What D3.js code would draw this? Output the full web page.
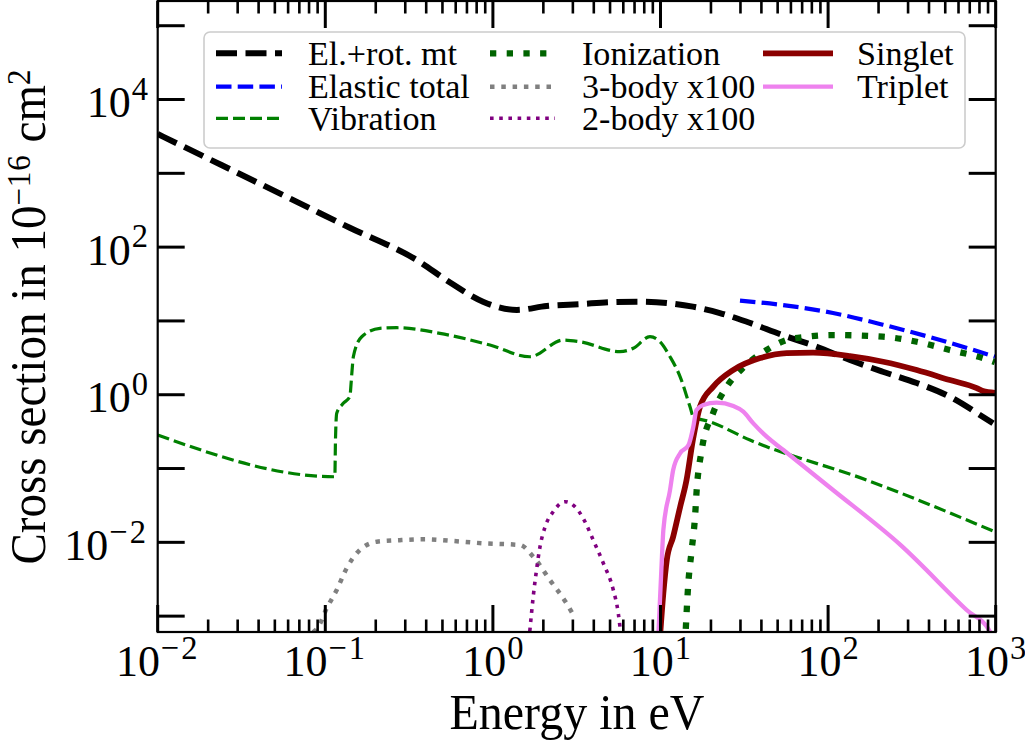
<!DOCTYPE html>
<html>
<head>
<meta charset="utf-8">
<script src="https://cdn.jsdelivr.net/npm/d3@7"></script>
<style>
  body { margin: 0; background: #fff; }
  text { font-family: "Liberation Serif", "DejaVu Serif", serif; fill: #000; }
</style>
</head>
<body>
<svg id="chart" width="1025" height="740"></svg>
<script>
// Cross sections, [energy in eV, value in 1e-16 cm^2]
const elRotMt = [[0.01,3410],[0.0179,1791],[0.0356,838],[0.0706,392],[0.14,183],[0.351,66.9],[0.555,33.1],
  [0.873,18.2],[1.39,14.1],[2.09,15.9],[3.31,16.9],[5.25,18.0],[7.57,18.2],[10.9,17.5],[15.6,15.6],[22.6,12.8],
  [32.7,9.75],[53.8,6.4],[85.5,4.47],[135,2.95],[212,2.05],[338,1.44],[532,0.94],[841,0.5],[964,0.41]];
const elasticTotal = [[29.8,18.8],[53.8,16.4],[107,12.8],[212,8.9],[423,5.87],[674,4.3],[990,3.27]];
const vibration = [[0.01,0.284],[0.114,0.0774],[0.115,0.243],[0.117,0.56],[0.128,0.764],[0.14,0.94],[0.144,1.95],
  [0.147,3.27],[0.165,6.11],[0.212,7.94],[0.267,8.09],[0.483,6.79],[0.961,4.71],[1.66,3.27],[2.63,5.51],
  [3.31,5.22],[5.73,3.83],[6.88,4.26],[8.65,6.11],[9.93,5.22],[11.4,3.27],[13.1,1.75],[15.0,0.687],[15.7,0.504],
  [19.7,0.431],[34.2,0.243],[170,0.0698],[990,0.0139]];
const ionization = [[14.0,4e-4],[14.66,2.81e-3],[15.35,7.87e-3],[16.07,0.0222],[16.44,0.0512],[17.62,0.178],
  [20.6,0.565],[24.8,1.28],[31.0,2.3],[43.0,4.04],[56.6,5.52],[74.5,6.11],[107,6.44],[212,6.11],[338,5.22],
  [532,4.04],[841,3.14],[990,2.77]];
const threeBody = [[0.0846,6.07e-4],[0.0908,7.18e-4],[0.102,1.28e-3],[0.117,2.26e-3],[0.134,4.45e-3],[0.157,7.46e-3],
  [0.203,0.0102],[0.279,0.0107],[0.394,0.011],[0.555,0.0105],[0.877,9.7e-3],[1.45,9.2e-3],[1.74,6.4e-3],
  [2.19,3.08e-3],[2.75,1.49e-3],[3.02,1.04e-3]];
const twoBody = [[1.66,6.25e-4],[1.74,1.83e-3],[1.82,4.2e-3],[1.91,8.7e-3],[2.05,0.0163],[2.29,0.026],[2.69,0.0355],
  [3.09,0.0303],[3.46,0.0211],[3.97,0.0107],[4.56,5.2e-3],[5.23,2.26e-3],[5.6,1.09e-3],[5.73,7.2e-4]];
const singlet = [[9.85,4e-4],[10.4,2.06e-3],[10.9,5.75e-3],[11.9,0.0119],[13.1,0.0303],[14.3,0.0698],[15.6,0.243],
  [17.2,0.687],[20.6,1.28],[27.1,2.16],[39.3,3.14],[56.6,3.67],[81.3,3.71],[135,3.34],[213,2.8],[338,2.16],
  [533,1.58],[771,1.23],[840,1.12],[990,1.06]];
const triplet = [[9.65,4e-4],[10.2,6.38e-3],[10.4,0.0147],[11.4,0.0512],[11.9,0.0955],[13.1,0.161],[14.7,0.208],
  [15.7,0.368],[16.4,0.621],[18.0,0.725],[21.6,0.78],[27.2,0.703],[31.2,0.589],[35.8,0.409],[43.0,0.27],
  [54.1,0.178],[107,0.0512],[269,9.3e-3],[671,1.21e-3],[925,6.15e-4],[1000,4.2e-4]];

const seriesNames = ["El.+rot. mt", "Elastic total", "Vibration", "Ionization", "3-body x100", "2-body x100", "Singlet", "Triplet"];
const seriesData = [elRotMt, elasticTotal, vibration, ionization, threeBody, twoBody, singlet, triplet];
const seriesColors = ["#000000", "#0000ff", "#008000", "#006400", "#808080", "#800080", "#8b0000", "#ee82ee"];
const seriesWidths = [6, 4.2, 3.2, 6.3, 4.5, 3.6, 5.8, 4.3];
const seriesDash = ["21,8.5", "15.5,6.2", "12,5", "6.3,10.4", "4.5,6.8", "3.6,5.6", null, null];

const xTickExp = ["\u22122", "\u22121", "0", "1", "2", "3"];
const yTickExp = ["\u22122", "0", "2", "4"];

const svg = d3.select("#chart");
const pLeft = 157.7, pRight = 995.7, pTop = 1, pBottom = 632;

const x = d3.scaleLog().domain([1e-2, 1e3]).range([pLeft, pRight]);
const y = d3.scaleLog().domain([Math.pow(10, -3.215), Math.pow(10, 5.335)]).range([pBottom, pTop]);

svg.append("defs").append("clipPath").attr("id", "clip")
  .append("rect").attr("x", pLeft).attr("y", pTop).attr("width", pRight - pLeft).attr("height", pBottom - pTop);

// curves
const line = d3.line().x(d => x(d[0])).y(d => y(d[1])).curve(d3.curveMonotoneX);
const plot = svg.append("g").attr("clip-path", "url(#clip)");
seriesData.forEach((data, i) => {
  plot.append("path")
    .attr("d", line(data))
    .attr("fill", "none")
    .attr("stroke", seriesColors[i])
    .attr("stroke-width", seriesWidths[i])
    .attr("stroke-dasharray", seriesDash[i])
    .attr("stroke-linejoin", "round");
});

// ticks, all inward, on all four sides
const xMajor = xTickExp.map((e, i) => Math.pow(10, i - 2));
const xMinor = [];
for (let dec = -2; dec < 3; dec++) for (let m = 2; m < 10; m++) xMinor.push(m * Math.pow(10, dec));
const yMajor = d3.range(-3, 6).map(e => Math.pow(10, e));

const axes = svg.append("g").attr("stroke", "#000").attr("fill", "none");
function tick(x1, y1, x2, y2, w) {
  axes.append("line").attr("x1", x1).attr("y1", y1).attr("x2", x2).attr("y2", y2).attr("stroke-width", w);
}
xMajor.forEach(v => { tick(x(v), pBottom, x(v), pBottom - 27, 3); tick(x(v), pTop, x(v), pTop + 27, 3); });
xMinor.forEach(v => { tick(x(v), pBottom, x(v), pBottom - 12.5, 2.6); tick(x(v), pTop, x(v), pTop + 12.5, 2.6); });
yMajor.forEach(v => { tick(pLeft, y(v), pLeft + 27, y(v), 3); tick(pRight, y(v), pRight - 27, y(v), 3); });

axes.append("rect").attr("x", pLeft).attr("y", pTop).attr("width", pRight - pLeft).attr("height", pBottom - pTop)
  .attr("stroke-width", 2.2);

// tick labels: 10^n
function power(g, px, py, exp, size, anchor) {
  const t = g.append("text")
    .attr("transform", `translate(${px},${py}) scale(1,1.02)`)
    .attr("text-anchor", anchor).style("font-size", size + "px");
  t.append("tspan").text("10");
  t.append("tspan").attr("dy", -17).attr("dx", 1)
    .style("font-size", (size * 0.74) + "px").style("letter-spacing", exp.length > 1 ? "2px" : null).text(exp);
  return t;
}
const labels = svg.append("g");
xMajor.forEach((v, i) => power(labels, x(v), 676, xTickExp[i], 44, "middle"));
[1e-2, 1, 1e2, 1e4].forEach((v, i) => power(labels, 148, y(v) + 17.5, yTickExp[i], 44, "end"));

// axis titles
svg.append("text")
  .attr("transform", "translate(577,729) scale(1,1.04)")
  .attr("text-anchor", "middle")
  .style("font-size", "48px")
  .text("Energy in eV");

const yl = svg.append("text")
  .attr("transform", "translate(45,317) rotate(-90) scale(1,1.07)")
  .attr("text-anchor", "middle")
  .style("font-size", "47px");
yl.append("tspan").text("Cross section in 10");
yl.append("tspan").attr("dy", -14).style("font-size", "31px").style("letter-spacing", "1px").text("\u221216");
yl.append("tspan").attr("dy", 14).text(" cm");
yl.append("tspan").attr("dy", -14).style("font-size", "31px").text("2");

// legend
const legend = svg.append("g");
legend.append("rect")
  .attr("x", 204).attr("y", 32).attr("width", 761).attr("height", 116)
  .attr("rx", 6).attr("fill", "#fff").attr("stroke", "#cccccc").attr("stroke-width", 1.6);

const legendCols = [[216, 282, 308], [490, 555, 582], [763, 833, 857]];
const legendRows = [53.3, 86.7, 118.3];
seriesNames.forEach((name, i) => {
  const c = legendCols[Math.floor(i / 3)], r = legendRows[i % 3];
  legend.append("line")
    .attr("x1", c[0]).attr("x2", c[1]).attr("y1", r).attr("y2", r)
    .attr("stroke", seriesColors[i])
    .attr("stroke-width", seriesWidths[i])
    .attr("stroke-dasharray", seriesDash[i]);
  legend.append("text")
    .attr("transform", `translate(${c[2]},${r + 11.5}) scale(1.1,1.06)`)
    .style("font-size", "31px")
    .text(name);
});
</script>
</body>
</html>
